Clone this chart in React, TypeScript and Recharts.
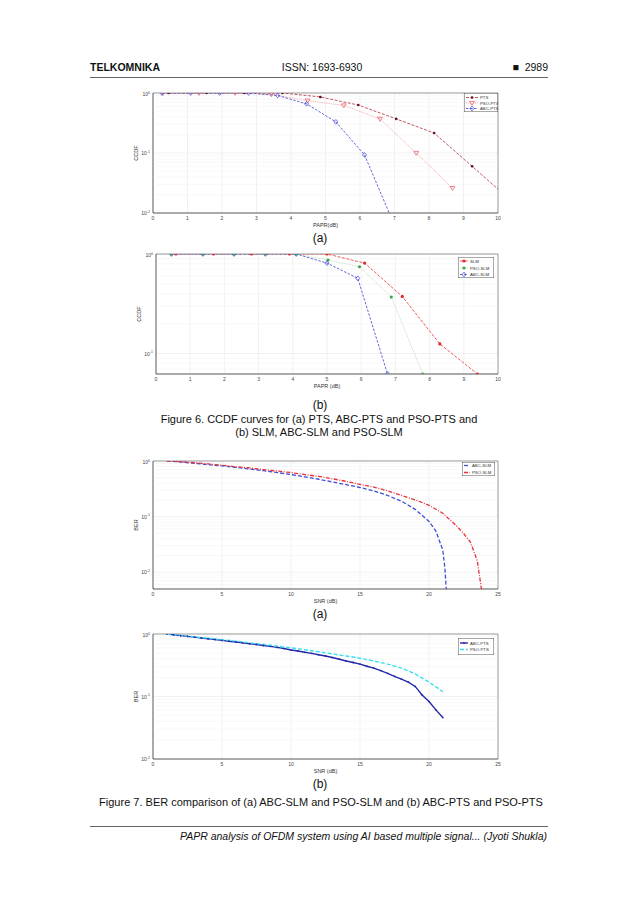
import React from 'react';
import { LineChart, Line, XAxis, YAxis, CartesianGrid, Legend, ReferenceLine, ReferenceArea } from 'recharts';

const FONT = '"Liberation Sans", Arial, sans-serif';

// Figure 6(a): CCDF of PTS, PSO-PTS, ABC-PTS
const ptsPapr = [0.45, 1.55, 2.65, 3.75, 4.85, 5.95, 7.05, 8.15, 9.25, 10.35];
const ptsCcdf = [1, 1, 1, 1, 0.86, 0.63, 0.37, 0.215, 0.06, 0.0166];
const psoPtsPapr = [0.28, 1.33, 2.38, 3.43, 4.48, 5.53, 6.58, 7.63, 8.68];
const psoPtsCcdf = [1, 1, 1, 0.95, 0.745, 0.62, 0.37, 0.1, 0.026];
const abcPtsPapr = [0.26, 1.09, 1.93, 2.77, 3.61, 4.45, 5.3, 6.13, 6.97];
const abcPtsCcdf = [1, 1, 1, 1, 0.91, 0.66, 0.33, 0.093, 0.0068];

// Figure 6(b): CCDF of SLM, PSO-SLM, ABC-SLM
const slmPapr = [0.58, 1.68, 2.79, 3.9, 5.0, 6.1, 7.2, 8.3, 9.4];
const slmCcdf = [1, 1, 1, 1, 1, 0.81, 0.375, 0.125, 0.0624];
const psoSlmPapr = [0.45, 1.37, 2.28, 3.2, 4.1, 5.03, 5.95, 6.88, 7.8];
const psoSlmCcdf = [1, 1, 1, 1, 1, 0.87, 0.745, 0.37, 0.0624];
const abcSlmPapr = [0.45, 1.37, 2.28, 3.2, 4.1, 5.0, 5.9, 6.77];
const abcSlmCcdf = [1, 1, 1, 1, 1, 0.81, 0.57, 0.0624];

// Figure 7(a): BER of ABC-SLM, PSO-SLM
const berAbcSlmSnr = [1, 2, 3, 4, 5, 6, 7, 8, 9, 10, 11, 12, 13, 14, 15, 16, 17, 18, 19, 20, 20.5, 21, 21.15, 21.25];
const berAbcSlm = [1, 0.96, 0.91, 0.86, 0.815, 0.77, 0.72, 0.67, 0.62, 0.57, 0.52, 0.47, 0.42, 0.375, 0.334, 0.29, 0.24, 0.19, 0.135, 0.082, 0.055, 0.025, 0.012, 0.005];
const berPsoSlmSnr = [1, 2, 3, 4, 5, 6, 7, 8, 9, 10, 11, 12, 13, 14, 15, 16, 17, 18, 19, 20, 21, 22, 22.5, 23, 23.5, 23.8];
const berPsoSlm = [1, 0.97, 0.93, 0.885, 0.84, 0.79, 0.75, 0.7, 0.66, 0.62, 0.57, 0.53, 0.48, 0.43, 0.38, 0.34, 0.29, 0.24, 0.2, 0.16, 0.115, 0.068, 0.05, 0.035, 0.016, 0.005];

// Figure 7(b): BER of ABC-PTS, PSO-PTS
const berAbcPtsSnr = [1, 1.5, 2, 2.5, 3, 3.5, 4, 4.5, 5, 5.5, 6, 6.5, 7, 7.5, 8, 8.5, 9, 9.5, 10, 10.5, 11, 11.5, 12, 12.5, 13, 13.5, 14, 14.5, 15, 15.5, 16, 16.5, 17, 17.5, 18, 18.5, 19, 19.5, 20, 20.5, 21];
const berAbcPts = [1, 0.97, 0.94, 0.915, 0.89, 0.865, 0.84, 0.815, 0.79, 0.765, 0.745, 0.72, 0.7, 0.68, 0.655, 0.635, 0.61, 0.585, 0.555, 0.535, 0.51, 0.49, 0.465, 0.445, 0.42, 0.395, 0.37, 0.35, 0.33, 0.305, 0.285, 0.26, 0.235, 0.21, 0.19, 0.17, 0.145, 0.106, 0.083, 0.061, 0.046];
const berPsoPtsSnr = [1, 2, 3, 4, 5, 6, 7, 8, 9, 10, 11, 12, 13, 14, 15, 16, 17, 18, 19, 20, 21];
const berPsoPts = [1, 0.95, 0.9, 0.855, 0.81, 0.77, 0.725, 0.68, 0.64, 0.6, 0.56, 0.52, 0.48, 0.445, 0.41, 0.37, 0.33, 0.285, 0.23, 0.17, 0.12];

const paprTicks = [0, 1, 2, 3, 4, 5, 6, 7, 8, 9, 10];
const snrTicks = [0, 5, 10, 15, 20, 25];
const minor2 = [0.02, 0.03, 0.04, 0.05, 0.06, 0.07, 0.08, 0.09, 0.2, 0.3, 0.4, 0.5, 0.6, 0.7, 0.8, 0.9];
const minorB = [0.07, 0.08, 0.09, 0.2, 0.3, 0.4, 0.5, 0.6, 0.7, 0.8, 0.9];
const minor3 = [0.006, 0.007, 0.008, 0.009, ...minor2];

type Marker = 'dot' | 'tri' | 'diamond' | 'none';

interface Series {
  name: string;
  xs: number[];
  ys: number[];
  color: string;
  markColor?: string;
  dash?: string;
  width: number;
  marker: Marker;
  r?: number;
}

const toPoints = (xs: number[], ys: number[]) => xs.map((x, i) => ({ x, y: ys[i] }));

function MarkerShape({ cx, cy, marker, color, r = 1.3 }: { cx: number; cy: number; marker: Marker; color: string; r?: number }) {
  if (marker === 'dot') return <circle cx={cx} cy={cy} r={r} fill={color} stroke="none" />;
  if (marker === 'tri')
    return <path d={`M${cx - 2.4},${cy - 1.6}L${cx + 2.4},${cy - 1.6}L${cx},${cy + 2.4}Z`} fill="none" stroke={color} strokeWidth={0.7} />;
  if (marker === 'diamond')
    return <path d={`M${cx},${cy - 2.4}L${cx + 2},${cy}L${cx},${cy + 2.4}L${cx - 2},${cy}Z`} fill="none" stroke={color} strokeWidth={0.7} />;
  return null;
}

const PowTick = (props: any) => {
  const { x, y, payload } = props;
  const exp = Math.round(Math.log10(payload.value));
  return (
    <text x={x} y={y} dy={2} textAnchor="end" fontSize={5} fill="#444" fontFamily={FONT}>
      10<tspan dy={-2.2} fontSize={3.5}>{exp}</tspan>
    </text>
  );
};

function LegendBox({ series, w, h, rows, textX }: { series: Series[]; w: number; h: number; rows: number[]; textX: number }) {
  return (
    <svg width={w} height={h} style={{ display: 'block' }}>
      <rect x={0.25} y={0.25} width={w - 0.5} height={h - 0.5} fill="#fff" stroke="#555" strokeWidth={0.5} />
      {series.map((s, i) => (
        <g key={s.name}>
          <line x1={2} x2={textX - 2} y1={rows[i]} y2={rows[i]} stroke={s.color} strokeWidth={s.width} strokeDasharray={s.dash} />
          <MarkerShape cx={textX / 2} cy={rows[i]} marker={s.marker} color={s.markColor || s.color} r={s.r} />
          <text x={textX} y={rows[i] + 1.5} fontSize={4.3} fill="#333" fontFamily={FONT}>{s.name}</text>
        </g>
      ))}
    </svg>
  );
}

interface PanelProps {
  top: number;
  height: number;
  marginLeft: number;
  xDomain: [number, number];
  xTicks: number[];
  yDomain: [number, number];
  yTicks: number[];
  minorY: number[];
  xLabel: string;
  yLabel: string;
  series: Series[];
  legend: { left: number; top: number; w: number; h: number; rows: number[]; textX: number };
}

function Panel(p: PanelProps) {
  return (
    <div style={{ position: 'absolute', left: 110, top: p.top }}>
      <LineChart width={400} height={p.height} margin={{ top: 8, right: 12, left: p.marginLeft, bottom: 3 }}>
        <CartesianGrid stroke="#e2e2e2" strokeWidth={0.5} />
        {p.minorY.map((v) => (
          <ReferenceLine key={v} y={v} stroke="#f0f0f0" strokeWidth={0.5} />
        ))}
        <XAxis
          type="number"
          dataKey="x"
          domain={p.xDomain}
          ticks={p.xTicks}
          allowDataOverflow
          height={14}
          tick={{ fontSize: 5, fill: '#444', fontFamily: FONT }}
          tickLine={false}
          tickSize={0}
          tickMargin={3}
          axisLine={{ stroke: '#444', strokeWidth: 0.5 }}
          label={{ value: p.xLabel, position: 'insideBottom', offset: 0, fontSize: 5.5, fill: '#333', fontFamily: FONT }}
        />
        <YAxis
          type="number"
          scale="log"
          domain={p.yDomain}
          ticks={p.yTicks}
          allowDataOverflow
          width={25}
          tick={<PowTick />}
          tickLine={false}
          tickSize={0}
          tickMargin={3}
          axisLine={{ stroke: '#444', strokeWidth: 0.5 }}
          label={{ value: p.yLabel, angle: -90, position: 'insideLeft', offset: 8, fontSize: 5.5, fill: '#333', fontFamily: FONT, style: { textAnchor: 'middle' } }}
        />
        <ReferenceArea x1={p.xDomain[0]} x2={p.xDomain[1]} y1={p.yDomain[0]} y2={p.yDomain[1]} fill="none" stroke="#444" strokeWidth={0.5} />
        {p.series.map((s) => (
          <Line
            key={s.name}
            data={toPoints(s.xs, s.ys)}
            dataKey="y"
            type="linear"
            stroke={s.color}
            strokeWidth={s.width}
            strokeDasharray={s.dash}
            isAnimationActive={false}
            dot={(d: any) => (
              <g key={`${s.name}-${d.index}`}>
                <MarkerShape cx={d.cx} cy={d.cy} marker={s.marker} color={s.markColor || s.color} r={s.r} />
              </g>
            )}
            activeDot={false}
          />
        ))}
        <Legend
          layout="vertical"
          align="center"
          verticalAlign="middle"
          wrapperStyle={{ left: p.legend.left, top: p.legend.top, width: p.legend.w, height: p.legend.h }}
          content={() => <LegendBox series={p.series} w={p.legend.w} h={p.legend.h} rows={p.legend.rows} textX={p.legend.textX} />}
        />
      </LineChart>
    </div>
  );
}

const fig6a: Series[] = [
  { name: 'PTS', xs: ptsPapr, ys: ptsCcdf, color: '#b03038', markColor: '#5a1020', dash: '3 1.5', width: 0.8, marker: 'dot' },
  { name: 'PSO-PTS', xs: psoPtsPapr, ys: psoPtsCcdf, color: '#f39a9a', markColor: '#e8505a', dash: '1 0.8', width: 0.8, marker: 'tri' },
  { name: 'ABC-PTS', xs: abcPtsPapr, ys: abcPtsCcdf, color: '#3a40d0', dash: '2.5 1.5', width: 0.8, marker: 'diamond' },
];

const fig6b: Series[] = [
  { name: 'SLM', xs: slmPapr, ys: slmCcdf, color: '#e83030', markColor: '#e02828', dash: '3 1.5', width: 0.8, marker: 'dot', r: 1.6 },
  { name: 'PSO-SLM', xs: psoSlmPapr, ys: psoSlmCcdf, color: '#b4dcb4', markColor: '#36a848', dash: '1 0.8', width: 0.8, marker: 'dot', r: 1.6 },
  { name: 'ABC-SLM', xs: abcSlmPapr, ys: abcSlmCcdf, color: '#3540d0', dash: '2.5 1.5', width: 0.8, marker: 'diamond' },
];

const fig7a: Series[] = [
  { name: 'ABC-SLM', xs: berAbcSlmSnr, ys: berAbcSlm, color: '#4050d8', dash: '4 2', width: 1.3, marker: 'none' },
  { name: 'PSO-SLM', xs: berPsoSlmSnr, ys: berPsoSlm, color: '#e8323a', dash: '4 1.5 1 1.5', width: 1.3, marker: 'none' },
];

const fig7b: Series[] = [
  { name: 'ABC-PTS', xs: berAbcPtsSnr, ys: berAbcPts, color: '#2428a8', width: 1.4, marker: 'dot', r: 0.9 },
  { name: 'PSO-PTS', xs: berPsoPtsSnr, ys: berPsoPts, color: '#38e0f0', dash: '4 2', width: 1.4, marker: 'none' },
];

function T({ x, y, children, size = 11, align = 'left', bold, italic }: { x: number; y: number; children: React.ReactNode; size?: number; align?: 'left' | 'center' | 'right'; bold?: boolean; italic?: boolean }) {
  const style: React.CSSProperties = {
    position: 'absolute',
    top: y - size * 0.6,
    lineHeight: `${size * 1.2}px`,
    fontSize: size,
    fontFamily: FONT,
    fontWeight: bold ? 'bold' : 'normal',
    fontStyle: italic ? 'italic' : 'normal',
    color: '#111',
    whiteSpace: 'nowrap',
  };
  if (align === 'left') style.left = x;
  if (align === 'right') style.right = 638 - x;
  if (align === 'center') {
    style.left = x - 300;
    style.width = 600;
    style.textAlign = 'center';
  }
  return <div style={style}>{children}</div>;
}

export default function App() {
  return (
    <div style={{ position: 'absolute', left: 0, top: 0, width: 638, height: 902, background: '#fff', overflow: 'hidden' }}>
      <T x={90} y={67} bold size={10.5}>TELKOMNIKA</T>
      <T x={322} y={67} align="center" size={10.5}>ISSN: 1693-6930</T>
      <T x={548} y={67} align="right" size={10.5}>■&nbsp;&nbsp;2989</T>
      <div style={{ position: 'absolute', left: 90, top: 77, width: 458, height: 1, background: '#666' }} />

      <Panel
        top={85}
        height={145}
        marginLeft={18}
        xDomain={[0, 10]}
        xTicks={paprTicks}
        yDomain={[0.01, 1]}
        yTicks={[0.01, 0.1, 1]}
        minorY={minor2}
        xLabel="PAPR(dB)"
        yLabel="CCDF"
        series={fig6a}
        legend={{ left: 354, top: 8, w: 34, h: 19, rows: [4.5, 10, 15.5], textX: 16 }}
      />
      <T x={320} y={238} align="center" size={12}>(a)</T>

      <Panel
        top={246}
        height={145}
        marginLeft={21}
        xDomain={[0, 10]}
        xTicks={paprTicks}
        yDomain={[0.0624, 1]}
        yTicks={[0.1, 1]}
        minorY={minorB}
        xLabel="PAPR (dB)"
        yLabel="CCDF"
        series={fig6b}
        legend={{ left: 348, top: 11, w: 36, h: 21, rows: [4, 11, 17.5], textX: 12 }}
      />
      <T x={320} y={405} align="center" size={12}>(b)</T>

      <T x={319} y={420} align="center" size={11}>Figure 6. CCDF curves for (a) PTS, ABC-PTS and PSO-PTS and</T>
      <T x={319} y={433} align="center" size={11}>(b) SLM, ABC-SLM and PSO-SLM</T>

      <Panel
        top={453}
        height={153}
        marginLeft={18}
        xDomain={[0, 25]}
        xTicks={snrTicks}
        yDomain={[0.005, 1]}
        yTicks={[0.01, 0.1, 1]}
        minorY={minor3}
        xLabel="SNR (dB)"
        yLabel="BER"
        series={fig7a}
        legend={{ left: 352, top: 9, w: 33, h: 14, rows: [3.5, 10.5], textX: 10 }}
      />
      <T x={320} y={614} align="center" size={12}>(a)</T>

      <Panel
        top={626}
        height={150}
        marginLeft={18}
        xDomain={[0, 25]}
        xTicks={snrTicks}
        yDomain={[0.01, 1]}
        yTicks={[0.01, 0.1, 1]}
        minorY={minor2}
        xLabel="SNR (dB)"
        yLabel="BER"
        series={fig7b}
        legend={{ left: 348, top: 12, w: 36, h: 17, rows: [5, 11.5], textX: 12 }}
      />
      <T x={320} y={784} align="center" size={12}>(b)</T>

      <T x={321} y={803} align="center" size={11}>Figure 7. BER comparison of (a) ABC-SLM and PSO-SLM and (b) ABC-PTS and PSO-PTS</T>

      <div style={{ position: 'absolute', left: 90, top: 826, width: 458, height: 1, background: '#666' }} />
      <T x={547} y={836} align="right" italic size={10.5}>PAPR analysis of OFDM system using AI based multiple signal... (Jyoti Shukla)</T>
    </div>
  );
}
